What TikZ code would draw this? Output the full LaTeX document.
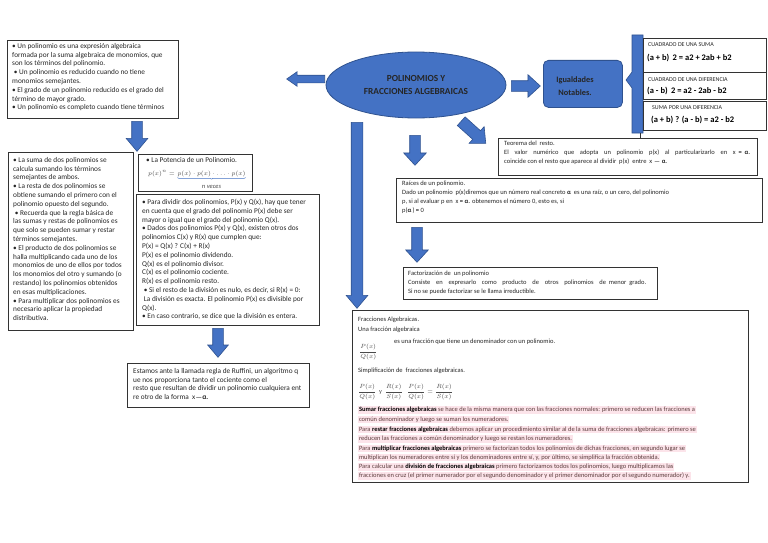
\documentclass[tikz,border=0pt]{standalone}
\usepackage{amsmath}
\usepackage{fontspec}
\setmainfont{Carlito}
\usetikzlibrary{shapes.geometric,shapes.arrows,calc,decorations.pathreplacing}
\definecolor{ablue}{HTML}{4472C4}
\definecolor{aedge}{HTML}{2F528F}
\definecolor{pinkhl}{HTML}{FCE4EA}
\definecolor{redtxt}{HTML}{5C3D3D}
\definecolor{mgray}{HTML}{4A4A4A}
\begin{document}
\begin{tikzpicture}[x=1pt,y=-1pt,
  box/.style={draw=black!80, line width=0.8pt, fill=white, inner sep=0pt, anchor=north west},
  body/.style={anchor=north west, inner sep=0pt, align=left, text=black!85, font=\fontsize{7.3}{8.8}\selectfont},
  sbody/.style={anchor=north west, inner sep=0pt, align=left, text=black!85, font=\fontsize{6.5}{9}\selectfont},
  sline/.style={anchor=west, inner sep=0pt, text=black!85, font=\fontsize{6.5}{8}\selectfont},
  hl/.style={anchor=west, inner xsep=0.8pt, inner ysep=0.7pt, fill=pinkhl, text=redtxt, text height=4.8pt, text depth=1.5pt, font=\fontsize{6.5}{8}\selectfont},
  barrow/.style={single arrow, fill=ablue, draw=aedge, line width=0.6pt, inner xsep=0pt, minimum width=0pt, anchor=tail},
  capt/.style={anchor=west, inner sep=0pt, text=black!85, font=\fontsize{6}{7}\selectfont},
  frm/.style={anchor=west, inner sep=0pt, text=black, font=\bfseries\fontsize{8.5}{9}\selectfont},
  mth/.style={anchor=base west, inner sep=0pt, text=mgray, font=\fontsize{6.1}{8}\selectfont}
]
\fill[white] (0,0) rectangle (768,543);
\useasboundingbox (0,0) rectangle (768,543);

% ---------- block arrows ----------
\node[barrow, rotate=180, minimum height=38pt, inner ysep=3.5pt, single arrow head extend=3.5pt, single arrow tip angle=70] (al) at (325,79) {};
\node[barrow, rotate=-90, minimum height=30pt, inner ysep=5pt, single arrow head extend=5.5pt, single arrow tip angle=80] (a1) at (137,121) {};
\node[barrow, minimum height=29pt, inner ysep=5pt, single arrow head extend=6pt, single arrow tip angle=85] (ar) at (511,86) {};
\node[barrow, rotate=-42, minimum height=33pt, inner ysep=5.5pt, single arrow head extend=5.5pt, single arrow tip angle=85] (ad) at (461,121) {};
\node[barrow, rotate=-90, minimum height=30pt, inner ysep=5pt, single arrow head extend=6pt, single arrow tip angle=85] (a5) at (415,135) {};
\node[barrow, rotate=-90, minimum height=186pt, inner ysep=5.5pt, single arrow head extend=5pt, single arrow tip angle=80] (a6) at (357,122) {};
\node[barrow, rotate=-90, minimum height=35pt, inner ysep=5pt, single arrow head extend=6pt, single arrow tip angle=85] (a7) at (417,227) {};
\node[barrow, rotate=-90, minimum height=29pt, inner ysep=5pt, single arrow head extend=5pt, single arrow tip angle=80] (a8) at (218,328) {};

% ---------- main ellipse ----------
\node[ellipse, fill=ablue, draw=aedge, line width=0.8pt, minimum width=180pt, minimum height=66pt, inner sep=0pt, align=center, text=black!85, font=\bfseries\fontsize{9.3}{13.5}\selectfont] (main) at (416,85) {POLINOMIOS Y\\FRACCIONES ALGEBRAICAS};

% ---------- Igualdades notables ----------
\node[rounded corners=5pt, fill=ablue, draw=aedge, line width=0.8pt, minimum width=79pt, minimum height=47pt, inner sep=0pt, anchor=north west] (ig) at (543,60) {};
\node[inner sep=0pt, align=center, text=black!85, font=\bfseries\fontsize{8.3}{13}\selectfont] (igt) at (575,86) {Igualdades\\Notables.};

% bracket bar
\filldraw[fill=ablue, draw=aedge, line width=0.6pt] (632,35) -- (643,35) -- (643,133) -- (632,133) -- (632,88) -- (626,80) -- (632,72) -- cycle;

% ---------- top right boxes ----------
\node[box, minimum width=123pt, minimum height=34pt] (s1) at (643,38) {};
\node[box, minimum width=123pt, minimum height=27pt] (s2) at (643,72) {};
\node[box, minimum width=123pt, minimum height=29pt] (s3) at (643,101) {};
\node[capt] (s1a) at (648,45) {CUADRADO DE UNA SUMA};
\node[frm] (s1b) at (647,58) {(a + b)\, 2 = a2 + 2ab + b2};
\node[capt] (s2a) at (648,80) {CUADRADO DE UNA DIFERENCIA};
\node[frm] (s2b) at (647,91) {(a - b)\, 2 = a2 - 2ab - b2};
\node[capt] (s3a) at (652,108) {SUMA POR UNA DIFERENCIA};
\node[frm] (s3b) at (651,120) {(a + b) ? (a - b) = a2 - b2};

% ---------- top left ----------
\node[box, minimum width=171pt, minimum height=78pt] (tl) at (7,40) {};
\node[body] (tlt) at (12,43) {• Un polinomio es una expresión algebraica\\formada por la suma algebraica de monomios, que\\son los términos del polinomio.\\\ • Un polinomio es reducido cuando no tiene\\monomios semejantes.\\• El grado de un polinomio reducido es el grado del\\término de mayor grado.\\• Un polinomio es completo cuando tiene términos};

% ---------- left column ----------
\node[box, minimum width=125pt, minimum height=178pt] (lc) at (8,152) {};
\node[body] (lct) at (13,157) {• La suma de dos polinomios se\\calcula sumando los términos\\semejantes de ambos.\\• La resta de dos polinomios se\\obtiene sumando el primero con el\\polinomio opuesto del segundo.\\\ • Recuerda que la regla básica de\\las sumas y restas de polinomios es\\que solo se pueden sumar y restar\\términos semejantes.\\• El producto de dos polinomios se\\halla multiplicando cada uno de los\\monomios de uno de ellos por todos\\los monomios del otro y sumando (o\\restando) los polinomios obtenidos\\en esas multiplicaciones.\\• Para multiplicar dos polinomios es\\necesario aplicar la propiedad\\distributiva.};

% ---------- potencia ----------
\node[box, minimum width=114pt, minimum height=37pt] (pt) at (138,154) {};
\node[body] (ptt) at (146,157.5) {• La Potencia de un Polinomio.};
\node[mth] (ptf1) at (148,175) {$p(x)^n =$};
\node[mth] (ptf2) at ($(ptf1.base east)+(2.5,0)$) {$p(x)\cdot p(x)\cdot\ldots\cdot p(x)$};
\draw[ablue, line width=0.5pt, decorate, decoration={brace, mirror, amplitude=1.5pt}] ($(ptf2.base west)+(0,2.6)$) -- ($(ptf2.base east)+(0,2.6)$);
\node[inner sep=0pt, text=mgray, font=\itshape\fontsize{6.5}{8}\selectfont] (ptn) at ($(ptf2.base)+(0,12)$) {n veces};

% ---------- division ----------
\node[box, minimum width=183pt, minimum height=131pt] (dv) at (136,194) {};
\node[body] (dvt) at (142,199) {• Para dividir dos polinomios, P(x) y Q(x), hay que tener\\en cuenta que el grado del polinomio P(x) debe ser\\mayor o igual que el grado del polinomio Q(x).\\• Dados dos polinomios P(x) y Q(x), existen otros dos\\polinomios C(x) y R(x) que cumplen que:\\P(x) = Q(x) ? C(x) + R(x)\\P(x) es el polinomio dividendo.\\Q(x) es el polinomio divisor.\\C(x) es el polinomio cociente.\\R(x) es el polinomio resto.\\\ • Si el resto de la división es nulo, es decir, si R(x) = 0:\\\ La división es exacta. El polinomio P(x) es divisible por\\Q(x).\\• En caso contrario, se dice que la división es entera.};

% ---------- Ruffini ----------
\node[box, minimum width=182pt, minimum height=44pt] (rf) at (127,363) {};
\node[body] (rft) at (133,368) {Estamos ante la llamada regla de Ruffini, un algoritmo q\\ue nos proporciona tanto el cociente como el\\resto que resultan de dividir un polinomio cualquiera ent\\re otro de la forma\ \ x$\boldsymbol{-}$\textbf{α}.};

% ---------- Teorema del resto ----------
\draw[black!80, line width=0.6pt] (640,133) -- (640,138);
\node[box, minimum width=259pt, minimum height=37pt] (tr) at (498,138) {};
\node[sbody] (trt) at (504,141) {Teorema del\ \ resto.\\\makebox[246pt][s]{El\ \ valor\ \ numérico\ \ que\ \ adopta\ \ un\ \ polinomio\ \ p(x)\ \ al\ \ particularizarlo\ \ en\ \ x \textbf{=} \textbf{α}.}\\coincide con el resto que aparece al dividir\ \ p(x)\ \ entre\ \ x $\boldsymbol{-}$ \textbf{α}.};

% ---------- Raices ----------
\node[box, minimum width=366pt, minimum height=44pt] (rz) at (396,178) {};
\node[sbody] (rzt) at (402,181) {Raíces de un polinomio.\\Dado un polinomio\ \ p(x)diremos que un número real concreto \textbf{α}\ \ es una raíz, o un cero, del polinomio\\p, si al evaluar p en\ \ x \textbf{=} \textbf{α}. obtenemos el número 0, esto es, si\\p(\textbf{α}\,) \textbf{=} 0};

% ---------- Factorizacion ----------
\node[box, minimum width=254pt, minimum height=32pt] (fc) at (403,267) {};
\node[sbody] (fct) at (408,271) {Factorización de\ \ un polinomio\\\makebox[238pt][s]{Consiste\ \ en\ \ expresarlo\ \ como\ \ producto\ \ de\ \ otros\ \ polinomios\ \ de menor grado.}\\Si no se puede factorizar se le llama irreductible.};

% ---------- Fracciones ----------
\node[box, minimum width=396pt, minimum height=172pt] (fr) at (352,310) {};
\node[sline] (fr1) at (358,320) {Fracciones Algebraicas.};
\node[sline] (fr2) at (358,329.5) {Una fracción algebraica};
\node[sline] (fr3) at (394,342) {es una fracción que tiene un denominador con un polinomio.};
\node[anchor=west, inner sep=0pt, font=\fontsize{6.3}{8}\selectfont] (fr4) at (359,352) {$\color{mgray}\dfrac{P(x)}{Q(x)}$};
\node[sline] (fr5) at (358,371) {Simplificación de\ \ fracciones algebraicas.};
\node[anchor=west, inner sep=0pt, font=\fontsize{6.3}{8}\selectfont] (fr6) at (358,392) {$\color{mgray}\dfrac{P(x)}{Q(x)}\ \ \text{y}\ \ \dfrac{R(x)}{S(x)}\ \ \ \dfrac{P(x)}{Q(x)} = \dfrac{R(x)}{S(x)}$};
\node[hl] (h1) at (358,410) {\textbf{\color{black}Sumar fracciones algebraicas} se hace de la misma manera que con las fracciones normales: primero se reducen las fracciones a};
\node[hl] (h2) at (358,419.5) {común denominador y luego se suman los numeradores.};
\node[hl] (h3) at (358,429.5) {Para \textbf{\color{black}restar fracciones algebraicas} debemos aplicar un procedimiento similar al de la suma de fracciones algebraicas: primero se};
\node[hl] (h4) at (358,439) {reducen las fracciones a común denominador y luego se restan los numeradores.};
\node[hl] (h5) at (358,448.5) {Para \textbf{\color{black}multiplicar fracciones algebraicas} primero se factorizan todos los polinomios de dichas fracciones, en segundo lugar se};
\node[hl] (h6) at (358,457.5) {multiplican los numeradores entre sí y los denominadores entre sí, y, por último, se simplifica la fracción obtenida.};
\node[hl] (h7) at (358,467) {Para calcular una \textbf{\color{black}división de fracciones algebraicas} primero factorizamos todos los polinomios, luego multiplicamos las};
\node[hl] (h8) at (358,476) {fracciones en cruz (el primer numerador por el segundo denominador y el primer denominador por el segundo numerador) y.};
\end{tikzpicture}
\end{document}
